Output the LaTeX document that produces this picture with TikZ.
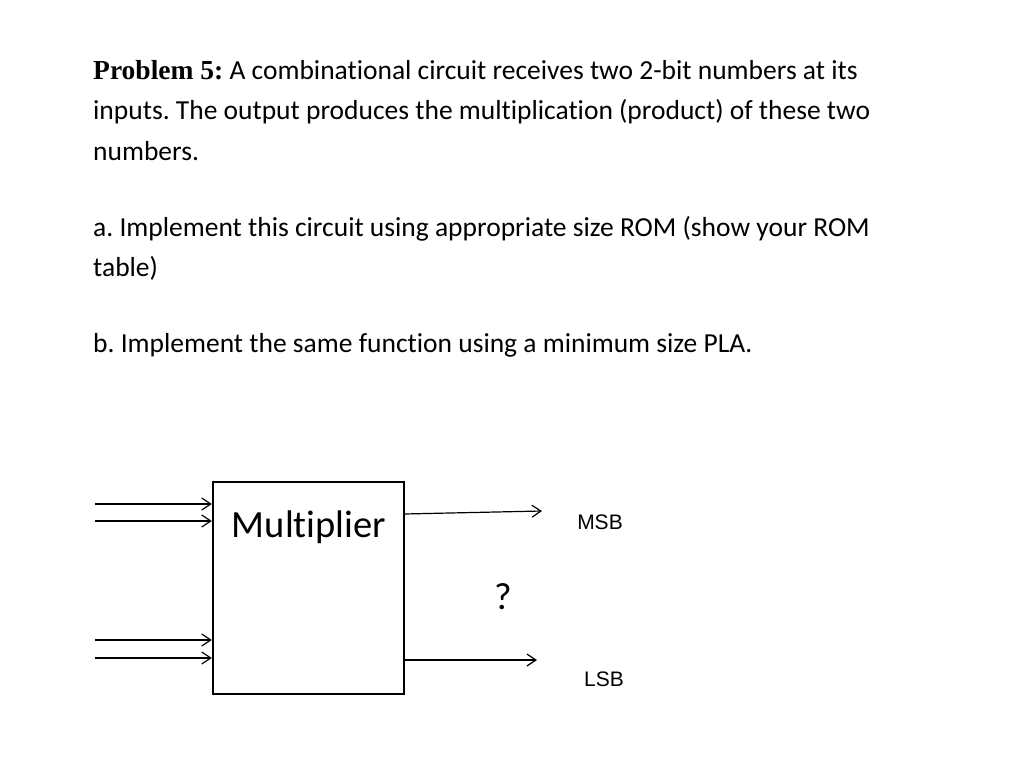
\documentclass[tikz,border=0pt]{standalone}
\usepackage{fontspec}
\setmainfont{Carlito}[Ligatures=NoCommon]
\newfontfamily\timesf{Liberation Serif}
\newfontfamily\arialf{Liberation Sans}
\usetikzlibrary{arrows.meta}
\frenchspacing
\begin{document}
\begin{tikzpicture}[x=1pt,y=-1pt,
  body/.style={anchor=base west,inner sep=0pt,font=\fontsize{27.5}{30}\selectfont},
  wire/.style={line width=1.2pt,-{Straight Barb[length=9pt,width=12pt]}},
  lbl/.style={inner sep=0pt,font=\arialf\fontsize{21}{23}\selectfont}]
\useasboundingbox (0,0) rectangle (1024,757);
\node[body] (t1) at (93,80) {{\timesf\bfseries Problem 5:} A combinational circuit receives two 2-bit numbers at its};
\node[body] (t2) at (93,120) {inputs. The output produces the multiplication (product) of these two};
\node[body] (t3) at (93,160) {numbers.};
\node[body] (t4) at (93,236) {a. Implement this circuit using appropriate size ROM (show your ROM};
\node[body] (t5) at (93,276) {table)};
\node[body] (t6) at (93,352) {b. Implement the same function using a minimum size PLA.};
\node[draw,line width=2.4pt,minimum width=191pt,minimum height=212pt,inner sep=0pt] (box) at (308.5,588) {};
\node[inner sep=0pt,font=\fontsize{38.5}{40}\selectfont] (m) at (309,527) {Multiplier};
\node[inner sep=0pt,font=\fontsize{38}{40}\selectfont] (q) at (503,597) {?};
\node[lbl] (msb) at (600,522) {MSB};
\node[lbl] (lsb) at (604,679) {LSB};
\coordinate (a1) at (95,504); \coordinate (a2) at (95,521);
\coordinate (b1) at (95,640); \coordinate (b2) at (95,658);
\draw[wire] (a1) -- (a1 -| box.west);
\draw[wire] (a2) -- (a2 -| box.west);
\draw[wire] (b1) -- (b1 -| box.west);
\draw[wire] (b2) -- (b2 -| box.west);
\coordinate (o1) at (404,514); \coordinate (e1) at (542,511);
\coordinate (o2) at (404,660); \coordinate (e2) at (537,660);
\draw[wire] (o1) -- (e1);
\draw[wire] (o2) -- (e2);
\end{tikzpicture}
\end{document}
